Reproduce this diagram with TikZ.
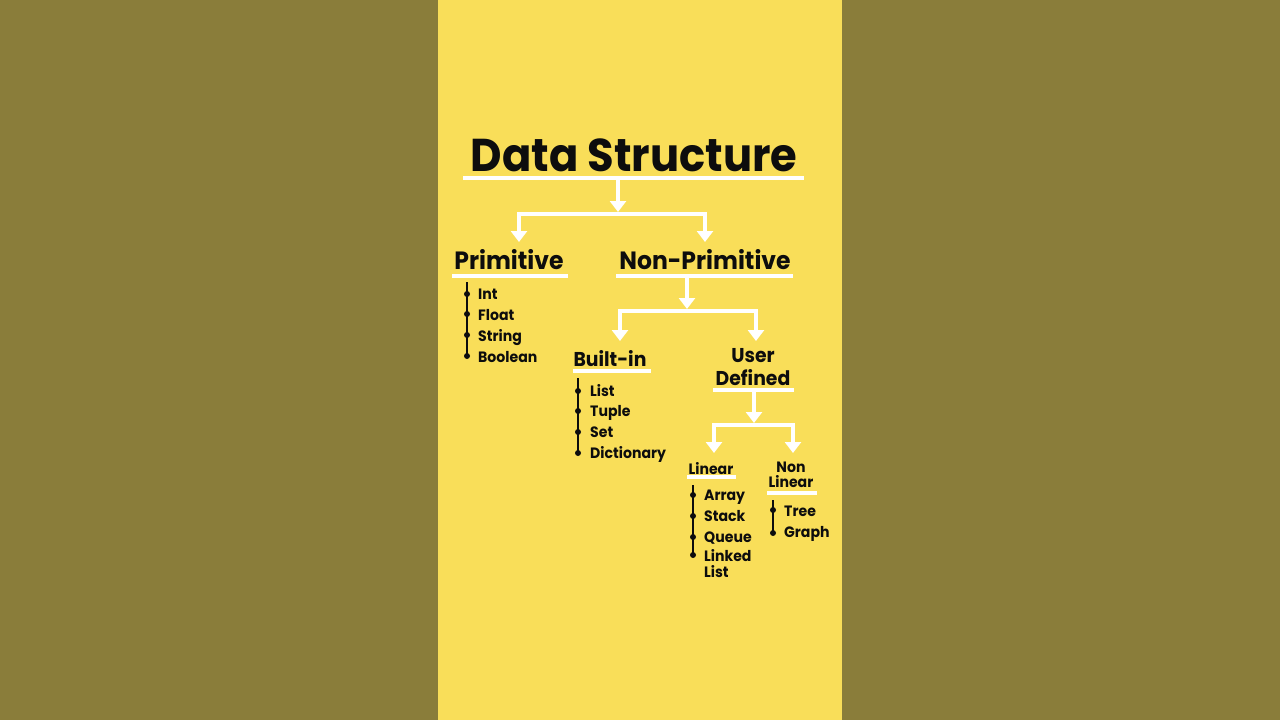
\documentclass[tikz,border=0pt]{standalone}
\usepackage{fontspec}
\setmainfont{Poppins}[FakeStretch=0.94]
\usetikzlibrary{arrows.meta}
\definecolor{sidebg}{HTML}{8A7D3A}
\definecolor{panel}{HTML}{F9DE59}
\definecolor{ink}{HTML}{0D0D0D}

\begin{document}
\begin{tikzpicture}[x=1pt,y=-1pt]
                    \tikzstyle{head}=[inner sep=0pt,text depth=0pt,text=ink,align=center]
                    \tikzstyle{item}=[anchor=base west,inner sep=0pt,text=ink,font=\bfseries\fontsize{15}{15}\selectfont]
                    \tikzstyle{dot}=[circle,fill=ink,inner sep=0pt,minimum size=6pt]
                    \tikzstyle{warr}=[white,line width=4pt,-{Triangle[width=16pt,length=11pt]}]
                    \tikzstyle{uline}=[white,line width=3.5pt]
                    \tikzstyle{stem}=[ink,line width=2pt]

                    \useasboundingbox (0,0) rectangle (1280,720);
                    \fill [sidebg] (0,0) rectangle (1280,720);
                    \fill [panel] (438,0) rectangle (842,720);

                    % headings
                    \node (ds) at (634,171) [head,anchor=base,font=\bfseries\fontsize{46}{46}\selectfont] {Data Structure};
                    \node (prim) at (509,269) [head,anchor=base,font=\bfseries\fontsize{25}{25}\selectfont] {Primitive};
                    \node (nprim) at (705,269) [head,anchor=base,font=\bfseries\fontsize{25}{25}\selectfont] {Non-Primitive};
                    \node (built) at (610,366) [head,anchor=base,font=\bfseries\fontsize{20}{20}\selectfont] {Built-in};
                    \node (user) at (753,386) [head,anchor=south,font=\bfseries\fontsize{20}{23}\selectfont] {User\\Defined};
                    \node (lin) at (711,474) [head,anchor=base,font=\bfseries\fontsize{15}{15}\selectfont] {Linear};
                    \node (nlin) at (791,488) [head,anchor=south,font=\bfseries\fontsize{15}{15}\selectfont] {Non\\Linear};

                    \draw [uline] (463,178) -- (804,178);
                    \draw [uline] (452,276) -- (568,276);
                    \draw [uline] (616,276) -- (793,276);
                    \draw [uline] (573,371) -- (651,371);
                    \draw [uline] (713,390) -- (794,390);
                    \draw [uline] (687,477) -- (736,477);
                    \draw [uline] (767,493) -- (817,493);

                    % arrows
                    \coordinate (j1) at (618,214);
                    \coordinate (a1) at (519,242);
                    \coordinate (a2) at (705,242);
                    \draw [warr,shorten >=2pt] (618,178) -- (j1);
                    \draw [warr] (j1) -| (a1);
                    \draw [warr] (j1) -| (a2);

                    \coordinate (j2) at (687,311);
                    \coordinate (b1) at (620,341);
                    \coordinate (b2) at (756,341);
                    \draw [warr,shorten >=2pt] (687,276) -- (j2);
                    \draw [warr] (j2) -| (b1);
                    \draw [warr] (j2) -| (b2);

                    \coordinate (j3) at (754,425);
                    \coordinate (c1) at (714,453);
                    \coordinate (c2) at (793,453);
                    \draw [warr,shorten >=2pt] (754,390) -- (j3);
                    \draw [warr] (j3) -| (c1);
                    \draw [warr] (j3) -| (c2);

                    % primitive list
                    \draw [stem] (467,282) -- (467,356);
                    \node (p1) at (467,294) [dot] {};
                    \node (p2) at (467,314) [dot] {};
                    \node (p3) at (467,335) [dot] {};
                    \node (p4) at (467,356) [dot] {};
                    \node (int) at (478,299) [item] {Int};
                    \node (flt) at (478,320) [item] {Float};
                    \node (str) at (478,341) [item] {String};
                    \node (bool) at (478,362) [item] {Boolean};

                    % built-in list
                    \draw [stem] (578,378) -- (578,453);
                    \node (q1) at (578,391) [dot] {};
                    \node (q2) at (578,411) [dot] {};
                    \node (q3) at (578,432) [dot] {};
                    \node (q4) at (578,453) [dot] {};
                    \node (list) at (590,396) [item] {List};
                    \node (tup) at (590,416) [item] {Tuple};
                    \node (set) at (590,437) [item] {Set};
                    \node (dict) at (590,458) [item] {Dictionary};

                    % linear list
                    \draw [stem] (693,485) -- (693,555);
                    \node (l1) at (693,495) [dot] {};
                    \node (l2) at (693,516) [dot] {};
                    \node (l3) at (693,537) [dot] {};
                    \node (l4) at (693,555) [dot] {};
                    \node (arr) at (704,500) [item] {Array};
                    \node (stk) at (704,521) [item] {Stack};
                    \node (que) at (704,542) [item] {Queue};
                    \node (lnk) at (704,561) [item] {Linked};
                    \node (lnk2) at (704,577) [item] {List};

                    % non linear list
                    \draw [stem] (773,500) -- (773,533);
                    \node (n1) at (773,510) [dot] {};
                    \node (n2) at (773,533) [dot] {};
                    \node (tree) at (784,516) [item] {Tree};
                    \node (graph) at (784,537) [item] {Graph};
\end{tikzpicture}
\end{document}
